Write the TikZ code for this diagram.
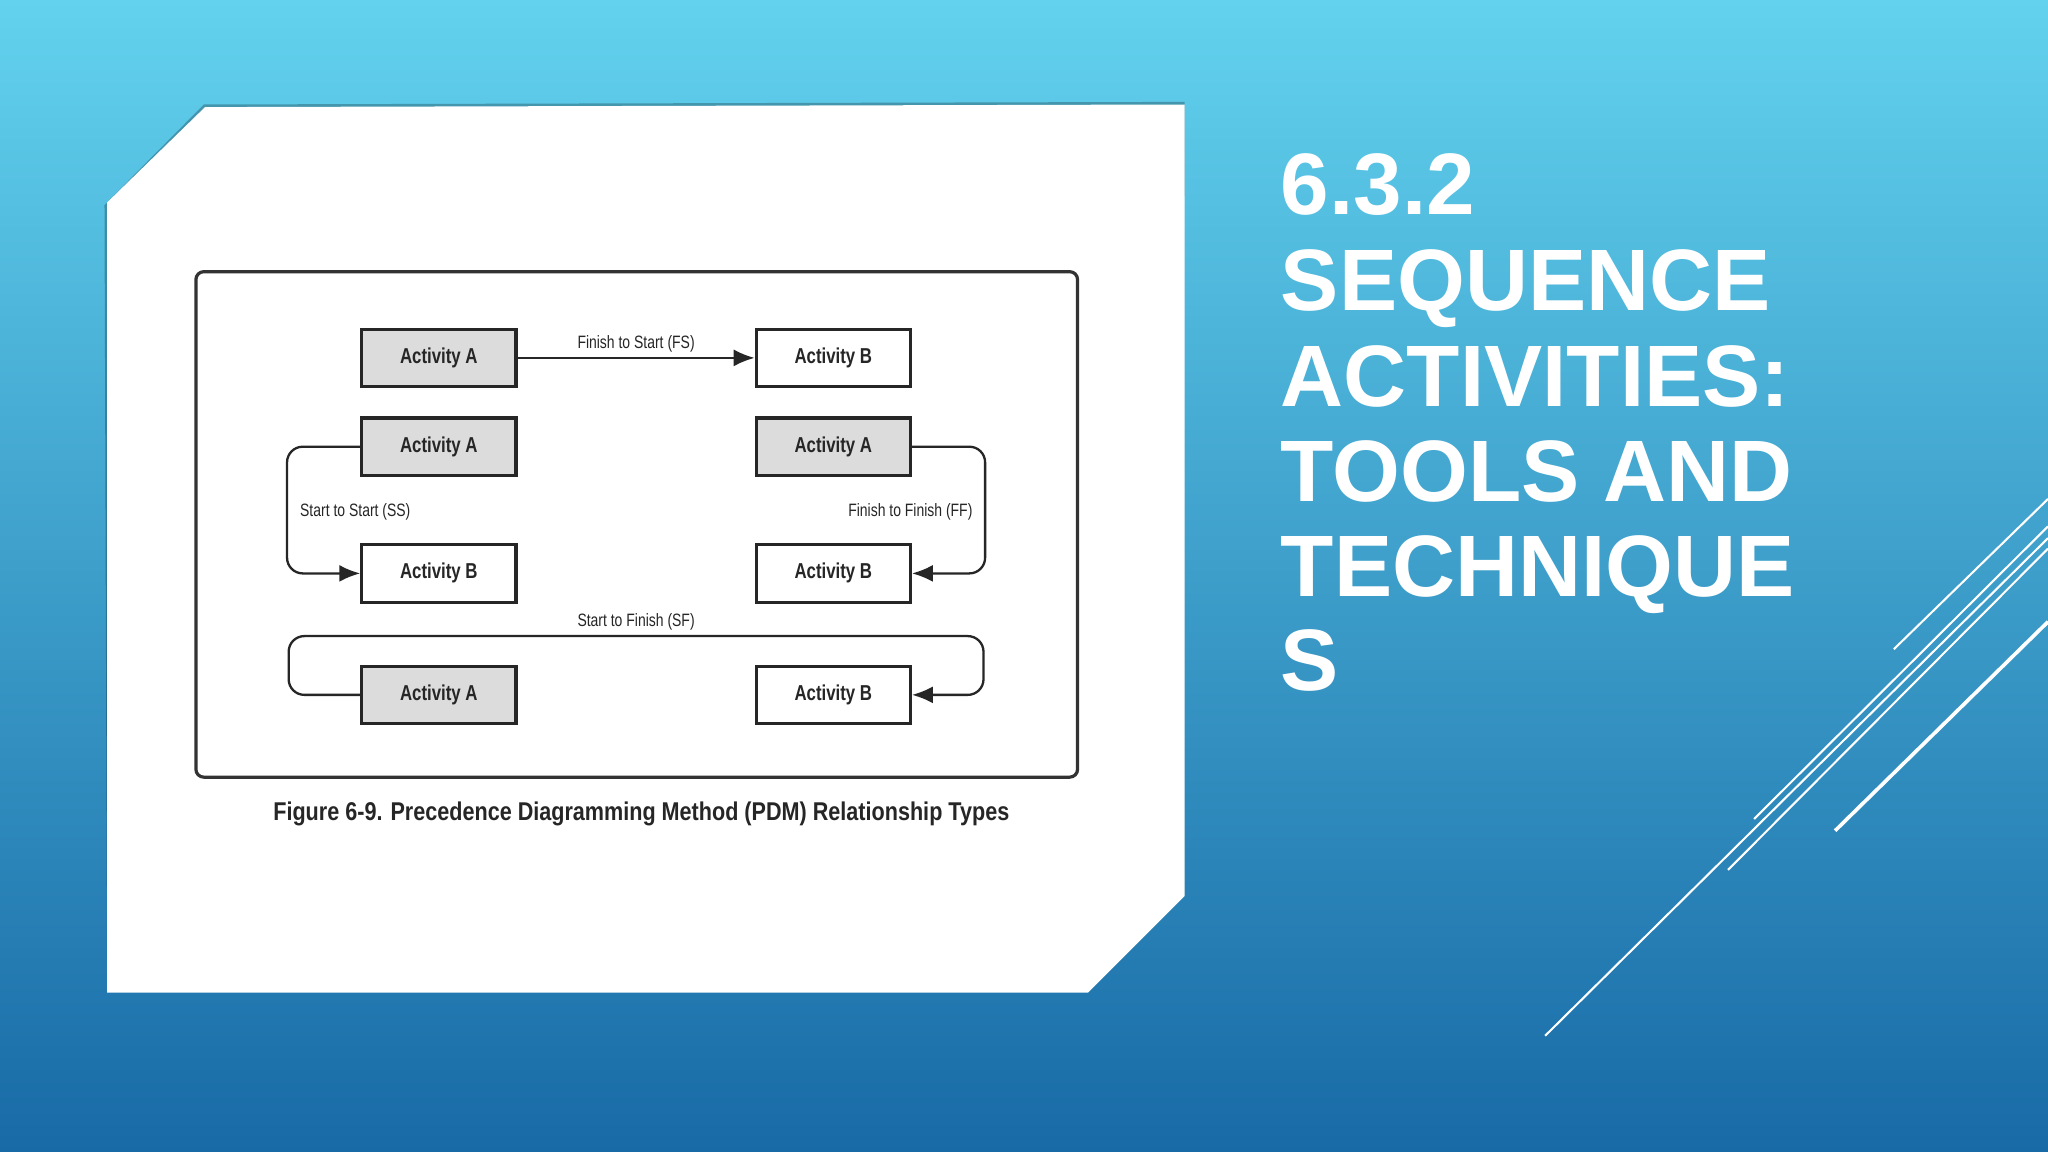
\documentclass[tikz,border=0pt]{standalone}
\usepackage{fontspec}
\usepackage{graphicx}
\setmainfont{Liberation Sans}
\usetikzlibrary{arrows.meta}
\newcommand{\cnd}[1]{\scalebox{0.78}[1]{#1}}
\definecolor{bgtop}{HTML}{62D2EE}
\definecolor{bgbot}{HTML}{186AA6}
\definecolor{boxgray}{HTML}{DCDCDC}
\tikzset{
 act/.style={draw=black!85,line width=0.7pt,minimum width=11.8mm,minimum height=4.4mm,inner sep=0pt,font=\fontsize{4.7pt}{6pt}\selectfont\bfseries,text=black!85},
 actg/.style={act,fill=boxgray},
 conn/.style={draw=black!85,line width=0.5pt,rounded corners=1.2mm},
 arr/.style={conn,-{Latex[length=1.6mm,width=1.3mm]}},
 lbl/.style={font=\fontsize{3.9pt}{5pt}\selectfont,text=black!85,inner sep=0pt},
 ttl/.style={text=white,font=\fontsize{19pt}{20pt}\selectfont\bfseries,anchor=base west,inner sep=0pt},
 deco/.style={draw=white,line width=0.45pt}
}
\begin{document}
\begin{tikzpicture}[x=0.1mm,y=-0.1mm]
\useasboundingbox (0,0) rectangle (1568,882);
\shade[top color=bgtop,bottom color=bgbot] (0,0) rectangle (1568,882);
% panel
\fill[black,opacity=0.25] (80,157) -- (156,80) -- (907,78) -- (907,150) -- (82,760) -- cycle;
\fill[white] (82,155) -- (157,82) -- (907,80) -- (907,686) -- (833,760) -- (82,760) -- cycle;
\draw[black!80,line width=0.7pt,rounded corners=0.6mm] (150,208) rectangle (825,595);
% boxes
\node[actg] (a1) at (336,274) {\cnd{Activity A}};
\node[act]  (b1) at (638,274) {\cnd{Activity B}};
\node[actg] (a2) at (336,342) {\cnd{Activity A}};
\node[actg] (a3) at (638,342) {\cnd{Activity A}};
\node[act]  (b2) at (336,439) {\cnd{Activity B}};
\node[act]  (b3) at (638,439) {\cnd{Activity B}};
\node[actg] (a4) at (336,532) {\cnd{Activity A}};
\node[act]  (b4) at (638,532) {\cnd{Activity B}};
% connectors
\draw[arr] (a1.east) -- (b1.west);
\node[lbl] (lfs) at (487,263) {\cnd{Finish to Start (FS)}};
\draw[arr] (a2.west) -- ++(-56,0) |- (b2.west);
\node[lbl] (lss) at (272,392) {\cnd{Start to Start (SS)}};
\draw[arr] (a3.east) -- ++(56,0) |- (b3.east);
\node[lbl] (lff) at (697,392) {\cnd{Finish to Finish (FF)}};
\coordinate (sfl) at (221,487);
\coordinate (sfr) at (753,487);
\draw[arr] (a4.west) -| (sfl) -- (sfr) |- (b4.east);
\node[lbl] (lsf) at (487,476) {\cnd{Start to Finish (SF)}};
\node[font=\fontsize{5.6pt}{7pt}\selectfont\bfseries,text=black!85] (cap) at (491,623) {\scalebox{0.84}[1]{Figure 6-9. Precedence Diagramming Method (PDM) Relationship Types}};
% title
\node[ttl] (t1) at (980,164) {6.3.2};
\node[ttl] (t2) at (980,238) {SEQUENCE};
\node[ttl] (t3) at (980,311) {ACTIVITIES:};
\node[ttl] (t4) at (980,384) {TOOLS AND};
\node[ttl] (t5) at (980,457) {TECHNIQUE};
\node[ttl] (t6) at (980,529) {S};
% decorative lines
\draw[deco] (1450,497) -- (1568,382);
\draw[deco] (1343,627) -- (1568,403);
\draw[deco] (1323,666) -- (1568,420);
\draw[line width=0.8pt,white] (1405,636) -- (1568,476);
\draw[deco] (1183,793) -- (1568,412);
\end{tikzpicture}
\end{document}
